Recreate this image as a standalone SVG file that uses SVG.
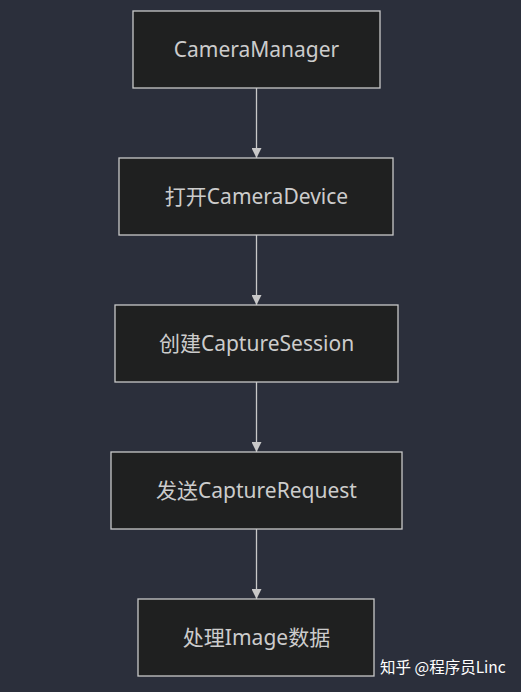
<svg xmlns="http://www.w3.org/2000/svg" width="521" height="692" viewBox="0 0 521 692">
<style>
.node rect{fill:#1f2020;stroke:#c8c8c8;stroke-width:1.3}
.node text{fill:#cccccc;font-family:"Noto Sans","Noto Sans CJK SC",sans-serif;font-size:21px;text-anchor:middle}
.edge{stroke:#c8c8c8;stroke-width:1.3;fill:none}
.wm{fill:#ffffff;font-family:"Noto Sans CJK SC","Noto Sans",sans-serif;font-size:15.5px}
</style>
<defs>
<marker id="arr" markerWidth="10" markerHeight="10" refX="10" refY="5" orient="auto" markerUnits="userSpaceOnUse">
<path d="M0,0 L10,5 L0,10 z" fill="#c8c8c8"/>
</marker>
</defs>
<rect width="521" height="692" fill="#2b2f3b"/>
<g id="connectors">
<line class="edge" x1="256.5" y1="88" x2="256.5" y2="158" marker-end="url(#arr)"/>
<line class="edge" x1="256.5" y1="235" x2="256.5" y2="305" marker-end="url(#arr)"/>
<line class="edge" x1="256.5" y1="382" x2="256.5" y2="452" marker-end="url(#arr)"/>
<line class="edge" x1="256.5" y1="529" x2="256.5" y2="599" marker-end="url(#arr)"/>
</g>
<g id="n1" class="node"><rect x="133" y="11" width="247" height="77"/><text x="256.5" y="57">CameraManager</text></g>
<g id="n2" class="node"><rect x="119" y="158" width="274" height="77"/><text x="256.5" y="204">打开CameraDevice</text></g>
<g id="n3" class="node"><rect x="115" y="305" width="283" height="77"/><text x="256.5" y="351">创建CaptureSession</text></g>
<g id="n4" class="node"><rect x="111" y="452" width="291" height="77"/><text x="256.5" y="498">发送CaptureRequest</text></g>
<g id="n5" class="node"><rect x="138" y="599" width="236" height="77"/><text x="256.5" y="645">处理Image数据</text></g>
<text class="wm" x="380" y="673">知乎 @程序员Linc</text>
</svg>
